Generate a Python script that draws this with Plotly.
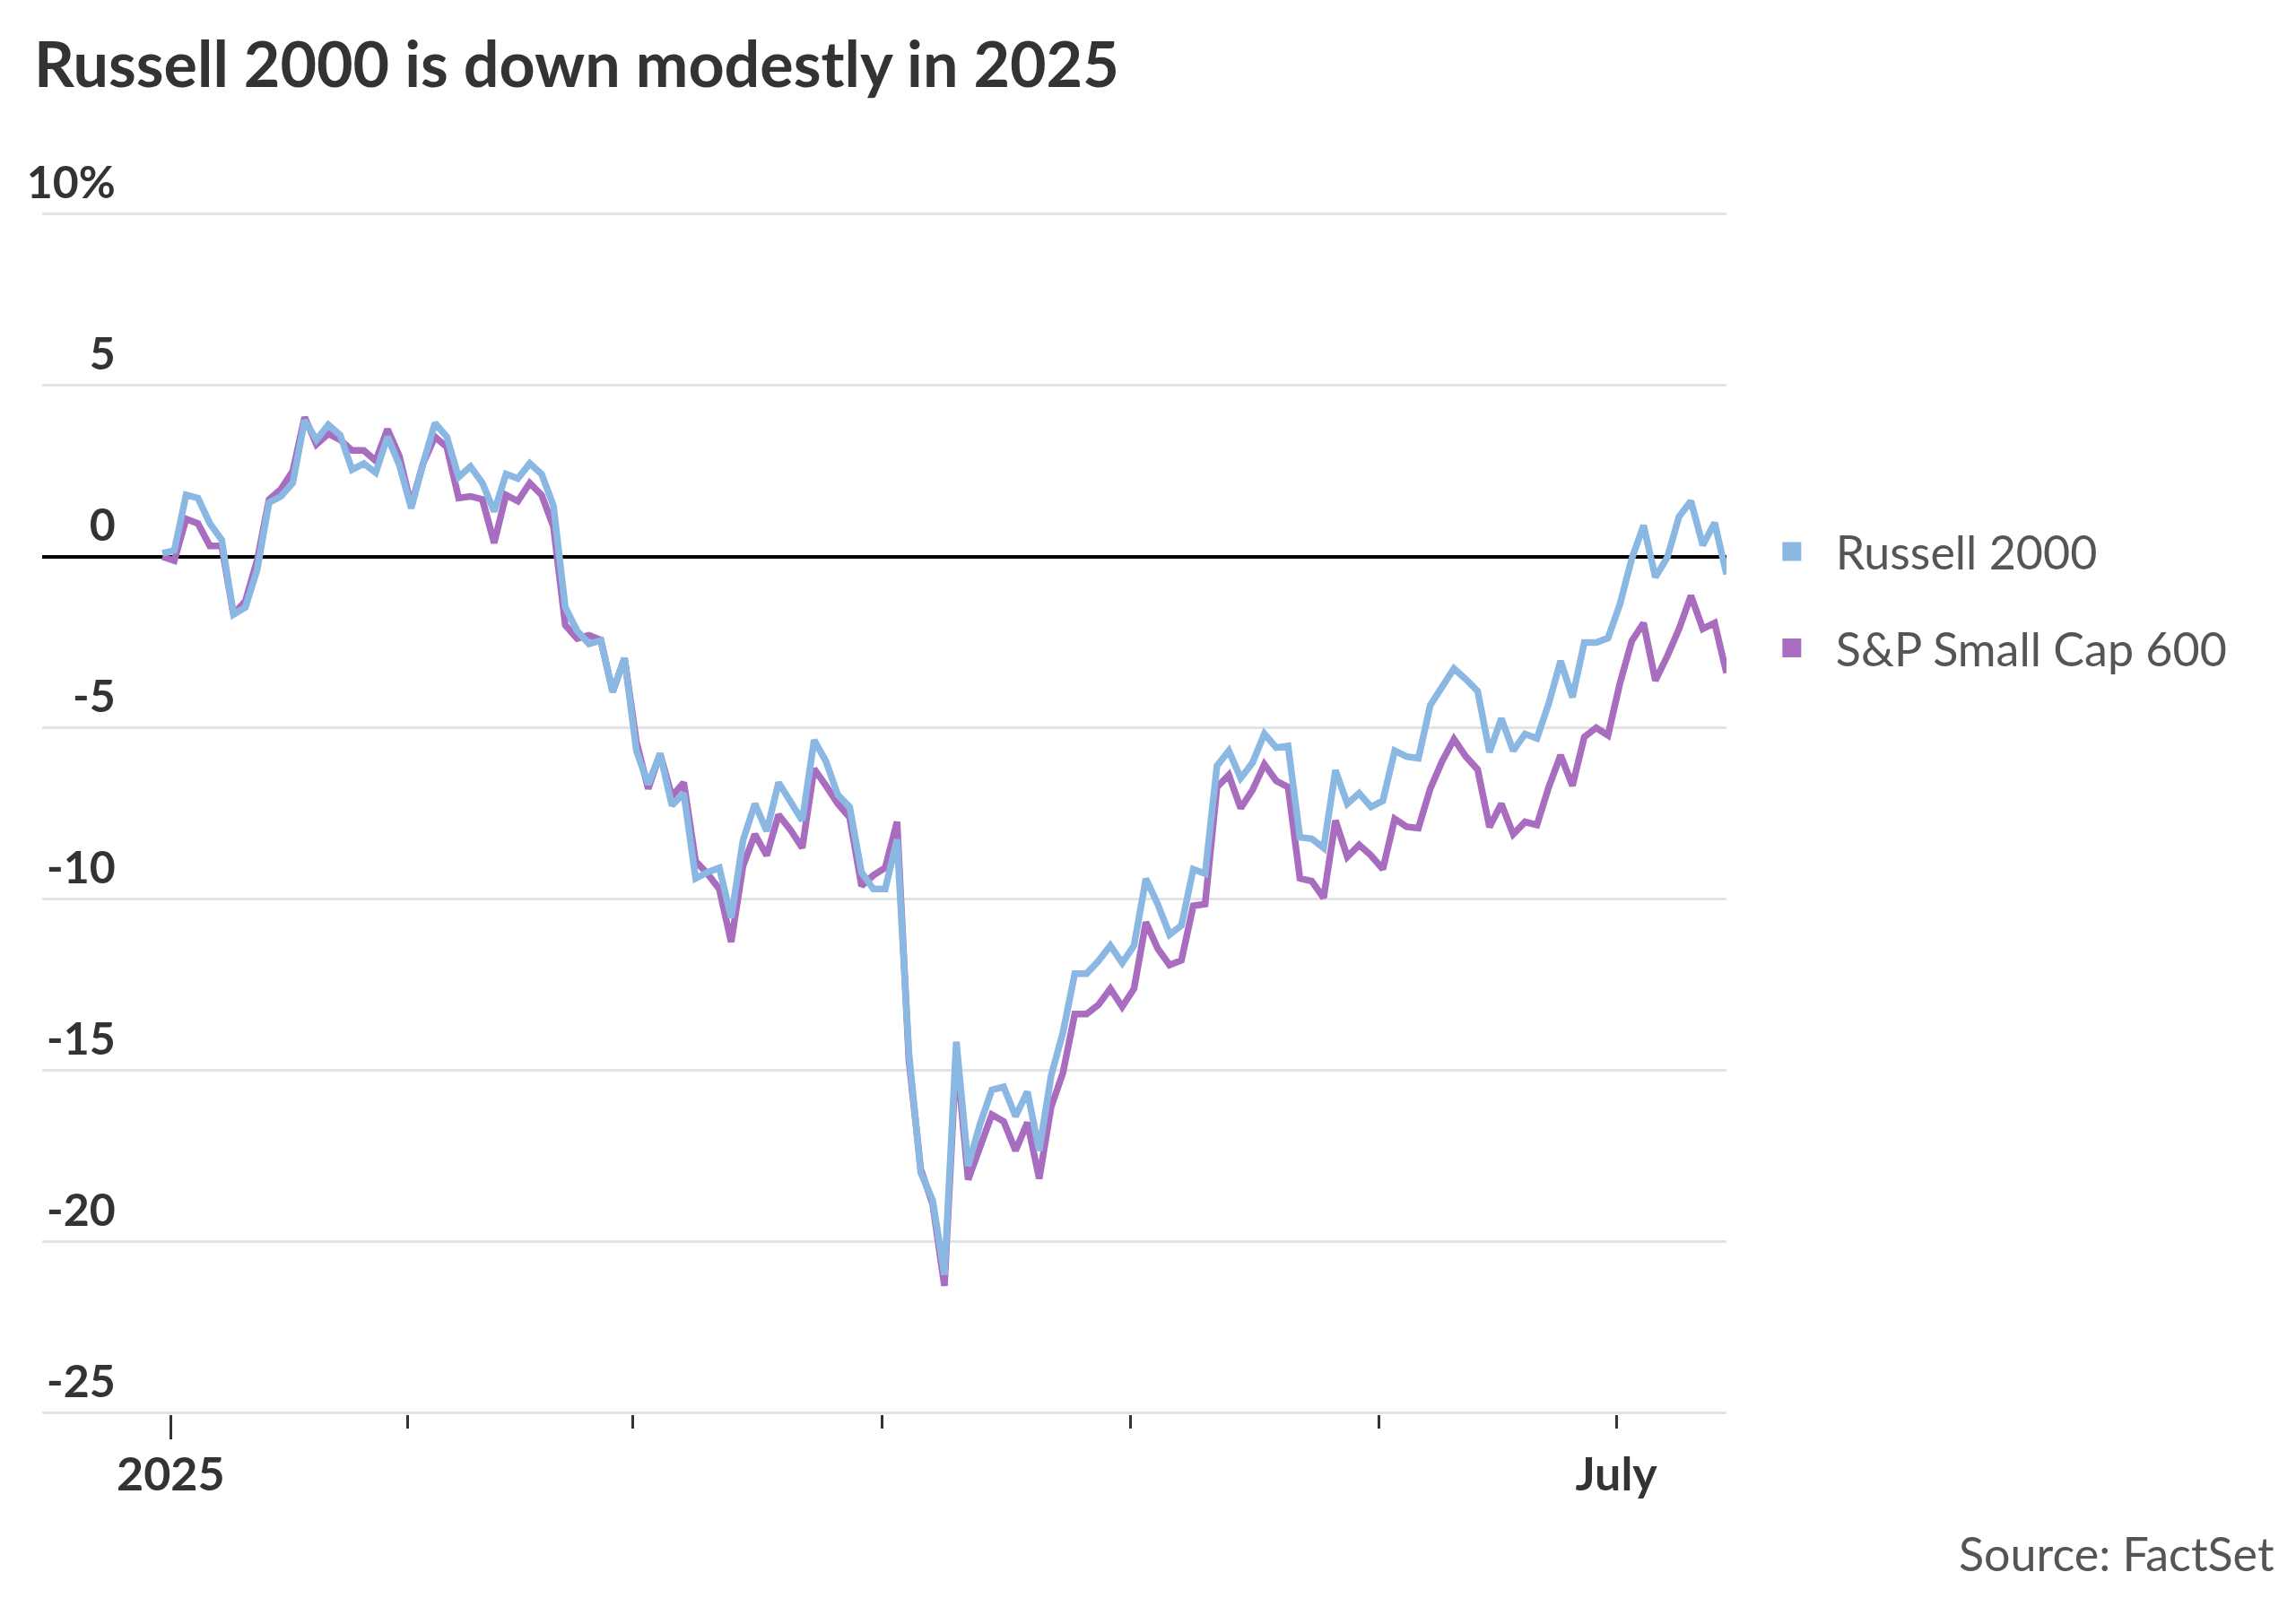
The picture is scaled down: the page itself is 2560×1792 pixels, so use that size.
import pandas as pd
import plotly.graph_objects as go

# ---- data ----
holidays = ["2025-01-01", "2025-01-09", "2025-01-20", "2025-02-17",
            "2025-04-18", "2025-05-26", "2025-06-19", "2025-07-04"]
dates = pd.bdate_range("2024-12-31", "2025-07-15")
dates = dates[~dates.isin(pd.to_datetime(holidays))]

russell_2000 = [
    0.1, 0.18, 1.8, 1.71, 0.97, 0.49, -1.69, -1.48, -0.38, 1.58,
    1.76, 2.15, 3.98, 3.41, 3.85, 3.55, 2.54, 2.72, 2.45, 3.5,
    2.67, 1.41, 2.72, 3.9, 3.5, 2.32, 2.63, 2.15, 1.32, 2.41,
    2.28, 2.72, 2.41, 1.49, -1.48, -2.17, -2.55, -2.45, -3.95, -2.97,
    -5.67, -6.65, -5.76, -7.27, -6.91, -9.4, -9.22, -9.09, -10.55, -8.29,
    -7.22, -8.02, -6.6, -7.18, -7.71, -5.36, -5.98, -6.96, -7.31, -9.22,
    -9.71, -9.71, -8.26, -14.5, -17.99, -18.8, -20.98, -14.17, -17.8, -16.58,
    -15.58, -15.49, -16.35, -15.63, -17.35, -15.17, -13.9, -12.18, -12.18, -11.81,
    -11.36, -11.87, -11.36, -9.41, -10.15, -11.04, -10.77, -9.13, -9.26, -6.11,
    -5.67, -6.47, -6.02, -5.18, -5.58, -5.53, -8.2, -8.24, -8.51, -6.24,
    -7.22, -6.91, -7.31, -7.13, -5.67, -5.84, -5.89, -4.34, -3.8, -3.27,
    -3.58, -3.93, -5.71, -4.73, -5.67, -5.18, -5.31, -4.29, -3.05, -4.11,
    -2.51, -2.51, -2.38, -1.4, -0.07, 0.91, -0.6, -0.03, 1.17, 1.62,
    0.33, 0.99, -0.52,
]
sp_small_cap_600 = [
    0.0, -0.12, 1.1, 0.97, 0.31, 0.31, -1.69, -1.3, -0.1, 1.67,
    1.97, 2.5, 4.07, 3.28, 3.59, 3.41, 3.1, 3.1, 2.8, 3.72,
    2.93, 1.49, 2.72, 3.5, 3.2, 1.71, 1.76, 1.67, 0.4, 1.8,
    1.62, 2.15, 1.8, 0.88, -2.0, -2.39, -2.3, -2.44, -3.95, -2.97,
    -5.4, -6.78, -5.76, -7.0, -6.6, -8.9, -9.26, -9.71, -11.26, -9.04,
    -8.11, -8.73, -7.54, -7.98, -8.51, -6.2, -6.69, -7.22, -7.62, -9.62,
    -9.31, -9.09, -7.75, -14.7, -17.9, -18.9, -21.3, -14.5, -18.2, -17.26,
    -16.3, -16.5, -17.35, -16.53, -18.17, -16.08, -15.08, -13.36, -13.36, -13.09,
    -12.62, -13.15, -12.62, -10.68, -11.45, -11.93, -11.79, -10.2, -10.15, -6.73,
    -6.38, -7.35, -6.82, -6.07, -6.55, -6.73, -9.4, -9.48, -9.97, -7.71,
    -8.77, -8.42, -8.73, -9.13, -7.66, -7.89, -7.93, -6.78, -5.98, -5.33,
    -5.84, -6.22, -7.9, -7.22, -8.11, -7.75, -7.84, -6.73, -5.8, -6.69,
    -5.27, -5.0, -5.22, -3.71, -2.47, -1.94, -3.62, -2.91, -2.11, -1.14,
    -2.11, -1.94, -3.4,
]
series_names = ["Russell 2000", "S&P Small Cap 600"]
series_colors = ["#8ab8e2", "#a86dbf"]
y_tick_values = [-25, -20, -15, -10, -5, 0, 5, 10]
y_tick_labels = ["-25", "-20", "-15", "-10", "-5", "0", "5", "10%"]
month_labels = {1: "2025", 7: "July"}

# trading-day index axis
x_idx = list(range(len(dates)))
date_text = [d.strftime("%b %d, %Y") for d in dates]
month_starts = []
prev = None
for i, d in enumerate(dates):
    key = (d.year, d.month)
    if d.year == 2025 and key != prev:
        month_starts.append((i - 0.3, d.month))
    prev = key
tickvals = [p for p, m in month_starts]
ticktext = [month_labels.get(m, "") for p, m in month_starts]
# longer year-start tick
year_tick = [tickvals[0] + 0.02]

X_RANGE = [-10.15, len(dates) - 1]
Y_RANGE = [-25.05, 10.05]
FONT = "Lato"

fig = go.Figure()
# S&P 600 on the base subplot
fig.add_trace(go.Scatter(x=x_idx, y=sp_small_cap_600, mode="lines", name=series_names[1],
                         line=dict(color=series_colors[1], width=7.5), showlegend=False,
                         xaxis="x", yaxis="y",
                         text=date_text, hovertemplate="%{text}: %{y:.2f}%<extra>S&P Small Cap 600</extra>"))
# Russell 2000 on the overlaid y axis that carries the tick labels (drawn on top)
fig.add_trace(go.Scatter(x=x_idx, y=russell_2000, mode="lines", name=series_names[0],
                         line=dict(color=series_colors[0], width=7.5), showlegend=False,
                         xaxis="x", yaxis="y2",
                         text=date_text, hovertemplate="%{text}: %{y:.2f}%<extra>Russell 2000</extra>"))
# legend entries (square swatches)
for name, col in zip(series_names, series_colors):
    fig.add_trace(go.Scatter(x=[None], y=[None], mode="markers", name=name, legendgroup=name,
                             xaxis="x", yaxis="y", hoverinfo="skip",
                             marker=dict(symbol="square", size=16, color=col,
                                         line=dict(width=5, color=col))))

fig.update_layout(
    width=2560, height=1792,
    margin=dict(l=39, r=643, t=229, b=223),
    paper_bgcolor="white", plot_bgcolor="white",
    font=dict(family=FONT, color="#333333"),
    title=dict(text="Russell 2000 is down modestly in 2025",
               font=dict(family=FONT, size=70, color="#333333", weight="bold"),
               xref="container", x=30 / 2560, xanchor="left",
               yref="container", y=1 - 64 / 1792, yanchor="middle"),
    xaxis=dict(range=X_RANGE, showgrid=False, zeroline=False, showline=False,
               tickmode="array", tickvals=tickvals, ticktext=ticktext,
               ticks="outside", ticklen=15, tickwidth=2.5, tickcolor="#333333",
               tickfont=dict(family=FONT, size=52, color="#333333", weight="bold"),
               ticklabelstandoff=7, fixedrange=True,
               minor=dict(tickmode="array", tickvals=year_tick, ticks="outside",
                          ticklen=27, tickwidth=2.5, tickcolor="#333333", showgrid=False)),
    yaxis=dict(range=Y_RANGE, tickmode="array", tickvals=y_tick_values,
               showticklabels=False, ticks="", showgrid=True, gridcolor="#e3e3e3", gridwidth=3,
               zeroline=True, zerolinecolor="#000000", zerolinewidth=3.5, showline=False,
               fixedrange=True),
    yaxis2=dict(overlaying="y", range=Y_RANGE, anchor="free", position=0.0435, side="left",
                tickmode="array", tickvals=y_tick_values, ticktext=y_tick_labels,
                showgrid=False, zeroline=False, showline=False, ticks="",
                tickfont=dict(family=FONT, size=50, color="#333333", weight="bold"),
                ticklabelshift=-35, fixedrange=True),
    legend=dict(x=1.0127, xanchor="left", y=0.748, yanchor="top",
                font=dict(family=FONT, size=52, color="#555555"),
                traceorder="grouped", tracegroupgap=37, itemwidth=88,
                bgcolor="rgba(0,0,0,0)"),
    annotations=[dict(text="Source: FactSet", xref="paper", yref="paper",
                      x=1.3264, y=-0.116, xanchor="right", yanchor="middle",
                      showarrow=False, font=dict(family=FONT, size=52, color="#555555"))],
)

fig.write_html("out.html")
